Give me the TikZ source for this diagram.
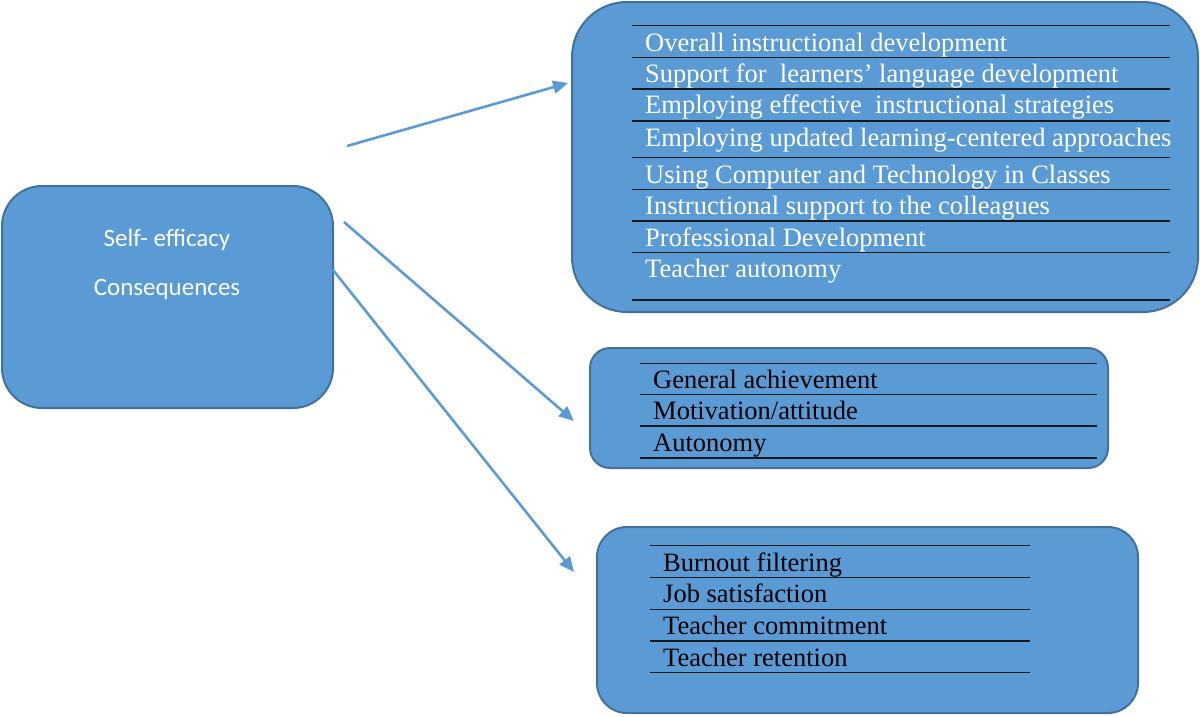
\documentclass[tikz,border=0pt]{standalone}
\usepackage{fontspec}
\setmainfont{Liberation Serif}
\newfontfamily\calib{Carlito}
\usetikzlibrary{arrows.meta}
\definecolor{boxfill}{HTML}{5B9BD5}
\definecolor{boxedge}{HTML}{41719C}
\definecolor{arrowc}{HTML}{5B9BD5}
\tikzset{
  pane/.style={draw=boxedge, line width=2pt, fill=boxfill, inner sep=0pt},
  rowline/.style={draw=black!90, line width=1.4pt},
  wtext/.style={anchor=base west, inner sep=0pt, text=white, font=\fontsize{26.5}{30}\selectfont},
  btext/.style={anchor=base west, inner sep=0pt, text=black, font=\fontsize{26.5}{30}\selectfont},
  ltext/.style={anchor=base, inner sep=0pt, text=white, font=\calib\fontsize{25}{28}\selectfont},
  link/.style={draw=arrowc, line width=2.6pt, -{Triangle[length=15pt,width=13pt]}}
}
\begin{document}
\begin{tikzpicture}[x=1pt,y=-1pt]
\useasboundingbox (0,0) rectangle (1200,716);
% boxes
\node[pane, rounded corners=40pt, minimum width=331pt, minimum height=222pt] (src) at (167.5,297) {};
\node[pane, rounded corners=55pt, minimum width=626pt, minimum height=310pt] (top) at (885,157) {};
\node[pane, rounded corners=20pt, minimum width=518pt, minimum height=120pt] (mid) at (849,408) {};
\node[pane, rounded corners=30pt, minimum width=541pt, minimum height=186pt] (bot) at (867.5,620) {};
% left text
\node[ltext] (t1) at (167,246) {Self- efficacy};
\node[ltext] (t2) at (167,295) {Consequences};
% top box lines
\foreach \y/\n in {25.7/a,57.3/b,89/c,121/d,157.7/e,189.3/f,221/g,252.7/h,300/i}
  \draw[rowline] (632,\y) coordinate (tl\n) -- (1170,\y) coordinate (tr\n);
\node[wtext] (r1) at (645,51) {Overall instructional development};
\node[wtext] (r2) at (645,82) {Support for\ \ learners’ language development};
\node[wtext] (r3) at (645,113.5) {Employing effective\ \ instructional strategies};
\node[wtext] (r4) at (645,146) {Employing updated learning-centered approaches};
\node[wtext] (r5) at (645,183) {Using Computer and Technology in Classes};
\node[wtext] (r6) at (645,214) {Instructional support to the colleagues};
\node[wtext] (r7) at (645,246) {Professional Development};
\node[wtext] (r8) at (645,277) {Teacher autonomy};
% middle box lines
\foreach \y/\n in {363.5/a,394.5/b,426/c,458/d}
  \draw[rowline] (640,\y) coordinate (ml\n) -- (1097,\y) coordinate (mr\n);
\node[btext] (m1) at (653,388) {General achievement};
\node[btext] (m2) at (653,419.5) {Motivation/attitude};
\node[btext] (m3) at (653,451) {Autonomy};
% bottom box lines
\foreach \y/\n in {545.7/a,577.3/b,609.3/c,641/d,672.7/e}
  \draw[rowline] (650,\y) coordinate (bl\n) -- (1030,\y) coordinate (br\n);
\node[btext] (b1) at (663,571) {Burnout filtering};
\node[btext] (b2) at (663,602.5) {Job satisfaction};
\node[btext] (b3) at (663,634) {Teacher commitment};
\node[btext] (b4) at (663,666) {Teacher retention};
% arrows
\coordinate (s1) at (347,146);
\coordinate (e1) at (568,83);
\coordinate (s2) at (344,222);
\coordinate (e2) at (574,421);
\coordinate (s3) at (333,270);
\coordinate (e3) at (574,572);
\draw[link] (s1) -- (e1);
\draw[link] (s2) -- (e2);
\draw[link] (s3) -- (e3);
\end{tikzpicture}
\end{document}
